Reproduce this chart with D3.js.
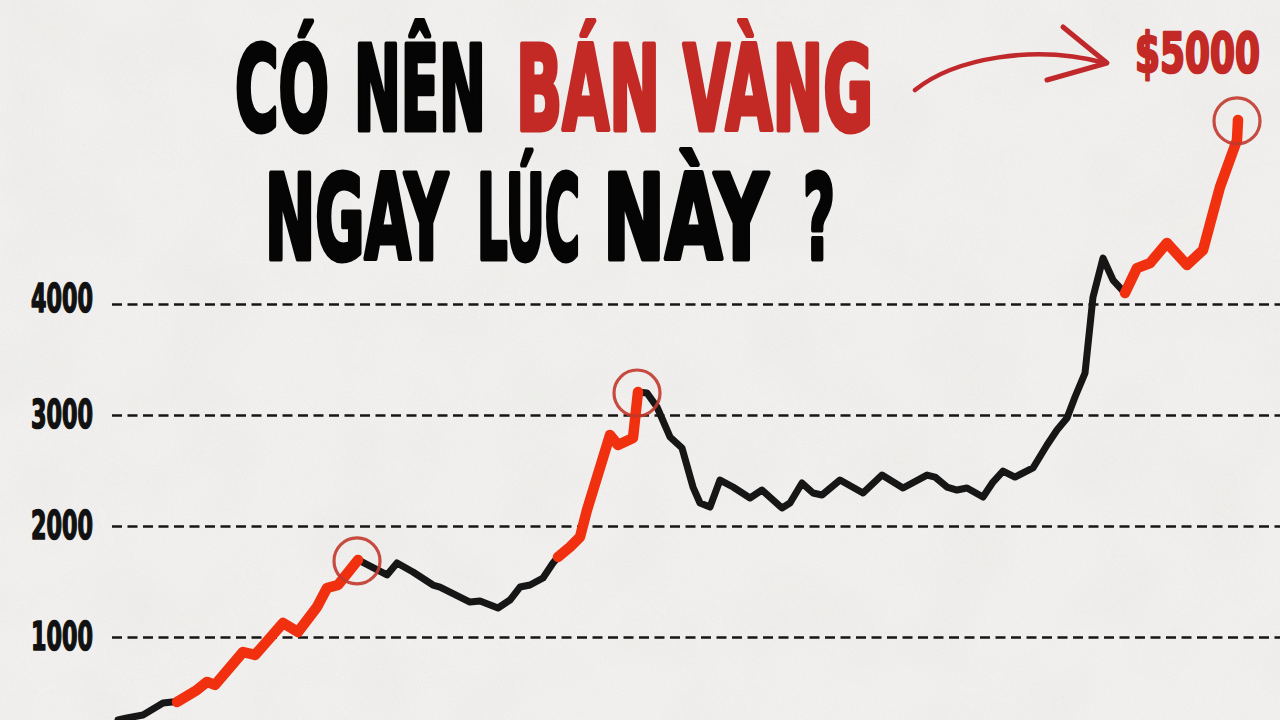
<!DOCTYPE html>
<html>
<head>
<meta charset="utf-8">
<script src="https://cdn.jsdelivr.net/npm/d3@7"></script>
<style>
  html, body { margin: 0; padding: 0; background: #efeeec; }
  svg { display: block; }
  .cond { font-family: "Liberation Sans Narrow", "DejaVu Sans Condensed", "Liberation Sans", sans-serif; font-weight: 700; font-stretch: condensed; }
</style>
</head>
<body>
<svg id="chart" width="1280" height="720"></svg>
<script>
// ---- data ----
const timeIdx = [0,0.9,2.5,4.5,5.4,5.9,7.9,8.9,9.7,12.5,13.7,16.5,18,19.9,20.9,22,24,
  24.4,26.9,27.9,29.5,31.5,32.2,35.2,36.2,38,39.2,40.2,41.2,42.5,43.5,44,45.2,46.2,46.9,
  49.2,50,51.5,52,52.9,53.9,55.2,56.4,57.5,58.2,59.2,60.2,61.5,63.2,64.4,66.4,67.2,68.4,
  69.5,70.4,72.2,74.5,76.4,78.5,80.9,81.7,82.9,83.9,84.9,86.5,87.5,88.5,89.7,91.5,92.9,
  93.9,94.9,95.7,96.7,97.5,98.5,99.5,100.7,101.9,103.2,104.9,106.9,108.5,109.5,110.2,111.9,112];
const price = [252,270,297,405,414,414,523,595,568,865,838,1126,1045,1270,1441,1468,1694,
  1676,1559,1667,1586,1468,1450,1315,1324,1261,1333,1450,1468,1532,1667,1721,1811,1901,2144,
  2820,2730,2793,3207,3198,3072,2802,2703,2351,2207,2171,2414,2351,2252,2324,2162,2207,2387,
  2297,2279,2414,2297,2459,2342,2459,2441,2351,2324,2342,2261,2396,2495,2441,2523,2730,
  2865,2973,3162,3378,4063,4414,4216,4099,4324,4369,4550,4351,4486,4820,5054,5477,5658];
const redRanges = [[5,16],[31,38],[77,86]];   // highlighted rallies (index ranges)
const peakIdx = [16,38,86];                   // circled peaks
const tickValues = [1000,2000,3000,4000];
const tickLabels = ["1000","2000","3000","4000"];
const titleLine1 = [{t:"CÓ", c:"black"},{t:"NÊN", c:"black"},{t:"BÁN", c:"red"},{t:"VÀNG", c:"red"}];
const titleLine2 = [{t:"NGAY", c:"black"},{t:"LÚC", c:"black"},{t:"NÀY", c:"black"},{t:"?", c:"black"}];
const targetLabel = "$5000";

// ---- layout ----
const W = 1280, H = 720;
const svg = d3.select("#chart");
const x = d3.scaleLinear().domain([0,112]).range([118,1238]);
const y = d3.scaleLinear().domain([0,5000]).range([748,193]);
const BLACK = "#161616", RED_LINE = "#f0300f", RED_TEXT = "#c42a25", RED_CIRCLE = "#c2392c";

// paper background
const defs = svg.append("defs");
const f = defs.append("filter").attr("id","paper").attr("x",0).attr("y",0).attr("width","100%").attr("height","100%");
f.append("feTurbulence").attr("type","fractalNoise").attr("baseFrequency","0.9").attr("numOctaves",3).attr("seed",4).attr("result","n");
f.append("feColorMatrix").attr("in","n").attr("type","matrix")
  .attr("values","0 0 0 0 0.45  0 0 0 0 0.45  0 0 0 0 0.44  0 0 0 -1.1 0.62");
const f2 = defs.append("filter").attr("id","blotch").attr("x",0).attr("y",0).attr("width","100%").attr("height","100%");
f2.append("feTurbulence").attr("type","fractalNoise").attr("baseFrequency","0.012").attr("numOctaves",2).attr("seed",9).attr("result","n");
f2.append("feColorMatrix").attr("in","n").attr("type","matrix")
  .attr("values","0 0 0 0 0.6  0 0 0 0 0.6  0 0 0 0 0.58  0 0 0 -0.9 0.5");
svg.append("rect").attr("width",W).attr("height",H).attr("fill","#f1f0ee");
svg.append("rect").attr("width",W).attr("height",H).attr("filter","url(#blotch)").attr("opacity",0.25);
svg.append("rect").attr("width",W).attr("height",H).attr("filter","url(#paper)").attr("opacity",0.18);

// fit a text horizontally into [xStart, xStart+width] by scaling
function fitText(sel, xStart, width, base) {
  const n = sel.node().getComputedTextLength();
  sel.attr("x",0).attr("y",0)
     .attr("transform",`translate(${xStart},${base}) scale(${width/n},1)`);
}

// grid lines (dashed)
const yAxis = d3.axisLeft(y).tickValues(tickValues).tickSize(-(W-112)).tickFormat((d,i)=>tickLabels[i]);
const ag = svg.append("g").attr("transform","translate(112,0)").call(yAxis);
ag.select(".domain").remove();
ag.selectAll(".tick line").attr("stroke",BLACK).attr("stroke-width",2.6).attr("stroke-dasharray","10,5.5");
ag.selectAll(".tick text").each(function(d){
  const t = d3.select(this)
    .attr("class","cond").attr("dy",null).attr("text-anchor","start")
    .attr("fill","#111").attr("stroke","#111").attr("stroke-width",1.6).attr("stroke-linejoin","round")
    .style("font-size","39px");
  const yy = y(d) - (d===4000 ? 304 : 0) ;
  fitText(t, -81, 62, (d===4000 ? -6 : -1) + 13.5);
});

// line
const pts = timeIdx.map((t,i)=>({t, v: price[i], i}));
const line = d3.line().x(d=>x(d.t)).y(d=>y(d.v)).curve(d3.curveLinear);
svg.append("path").datum(pts).attr("d",line)
  .attr("fill","none").attr("stroke",BLACK).attr("stroke-width",7)
  .attr("stroke-linejoin","round").attr("stroke-linecap","round");
svg.selectAll(".redseg").data(redRanges).join("path").attr("class","redseg")
  .attr("d",r=>line(pts.slice(r[0], r[1]+1)))
  .attr("fill","none").attr("stroke",RED_LINE).attr("stroke-width",10.5)
  .attr("stroke-linejoin","round").attr("stroke-linecap","round");

// peak circles
svg.selectAll(".peak").data(peakIdx).join("circle").attr("class","peak")
  .attr("cx",i=>x(timeIdx[i])-1).attr("cy",i=>y(price[i])+1).attr("r",23)
  .attr("fill","none").attr("stroke",RED_CIRCLE).attr("stroke-width",3.2).attr("opacity",0.9);

// title
function word(g, w, xStart, width, base, size) {
  const col = w.c==="red"?RED_TEXT:"#050505";
  const t = g.append("text").attr("class","cond")
    .style("font-size",size+"px")
    .attr("fill", col).attr("stroke", col).attr("stroke-width",5)
    .attr("stroke-linejoin","round")
    .text(w.t);
  fitText(t, xStart, width, base);
}
const tg = svg.append("g");
const pos1 = [[235,94],[354,132],[516,144],[683,190]];
const pos2 = [[265,183],[477,103],[603,165],[803,32]];
titleLine1.forEach((w,i)=>word(tg,w,pos1[i][0],pos1[i][1],130,118));
titleLine2.forEach((w,i)=>word(tg,w,pos2[i][0],pos2[i][1],259,118));

// target label and arrow
const tl = svg.append("text").attr("class","cond")
  .style("font-size","55px")
  .attr("fill",RED_TEXT).attr("stroke",RED_TEXT).attr("stroke-width",2.5).attr("stroke-linejoin","round")
  .text(targetLabel);
fitText(tl, 1135, 125, 72);
const ar = svg.append("g").attr("fill","none").attr("stroke","#c0282b").attr("stroke-linecap","round").attr("stroke-linejoin","round");
ar.append("path").attr("d","M915,90 C955,58 1035,44 1105,63").attr("stroke-width",4.5);
ar.append("path").attr("d","M1063,27 L1107,63 L1047,80").attr("stroke-width",5);
</script>
</body>
</html>
